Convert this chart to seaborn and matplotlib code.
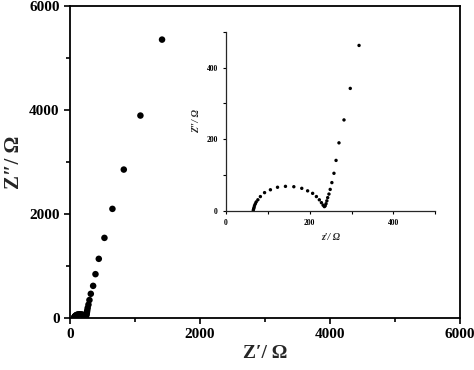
import matplotlib
matplotlib.use("Agg")
import matplotlib.pyplot as plt
import seaborn as sns
from matplotlib.ticker import MultipleLocator

# Nyquist data (ohm)
z_re = [65, 66, 67, 68, 70, 72, 76, 82, 92, 106, 123, 142, 162, 181, 195, 207,
        216, 223, 228, 232, 235, 237, 239, 241, 243, 246, 249, 253, 258, 263,
        270, 282, 297, 318, 354, 390, 441, 528, 651, 826, 1082, 1415]
z_im = [2, 6, 10, 15, 20, 25, 31, 40, 51, 59, 66, 68.5, 67.5, 63, 56, 49,
        40, 31, 23, 16, 12, 14, 20, 28, 37, 47, 60, 79, 105, 141,
        190, 254, 342, 462, 615, 840, 1135, 1538, 2096, 2852, 3891, 5352]

main_ticks = [0, 2000, 4000, 6000]
inset_ticks = [0, 200, 400]

sns.set_style("ticks")
plt.rcParams['font.family'] = ['Liberation Serif', 'DejaVu Serif']
plt.rcParams['font.weight'] = 'bold'

fig = plt.figure(figsize=(4.74, 3.70), dpi=100)

# main plot
ax = fig.add_axes([0.148, 0.141, 0.822, 0.843])
sns.scatterplot(x=z_re, y=z_im, ax=ax, color='black', s=22, edgecolor='none')
ax.set_xlim(0, 6000)
ax.set_ylim(0, 6000)
ax.set_xticks(main_ticks)
ax.set_yticks(main_ticks)
ax.xaxis.set_minor_locator(MultipleLocator(1000))
ax.yaxis.set_minor_locator(MultipleLocator(1000))
ax.tick_params(which='both', direction='out', width=1.2, colors='black', labelsize=11)
ax.tick_params(which='major', length=4)
ax.tick_params(which='minor', length=3)
for lab in ax.get_xticklabels() + ax.get_yticklabels():
    lab.set_fontweight('bold')
for sp in ax.spines.values():
    sp.set_linewidth(1.3)
    sp.set_color('black')
ax.set_xlabel("Z\u2032/ \u03a9", fontsize=14, fontweight='bold', labelpad=3)
ax.set_ylabel("Z\u2033/ \u03a9", fontsize=15, fontweight='bold', labelpad=4)

# inset zoom of the high-frequency semicircle
ins = fig.add_axes([0.477, 0.430, 0.441, 0.484])
sns.scatterplot(x=z_re, y=z_im, ax=ins, color='black', s=6, edgecolor='none')
ins.set_xlim(0, 500)
ins.set_ylim(0, 500)
ins.set_xticks(inset_ticks)
ins.set_yticks(inset_ticks)
ins.xaxis.set_minor_locator(MultipleLocator(100))
ins.yaxis.set_minor_locator(MultipleLocator(100))
ins.tick_params(which='both', direction='out', width=0.8, colors='black', labelsize=5.5)
ins.tick_params(which='major', length=2.5)
ins.tick_params(which='minor', length=2)
for lab in ins.get_xticklabels() + ins.get_yticklabels():
    lab.set_fontweight('bold')
ins.spines['top'].set_visible(False)
ins.spines['right'].set_visible(False)
ins.spines['left'].set_linewidth(0.9)
ins.spines['bottom'].set_linewidth(0.9)
ins.patch.set_alpha(0)
ins.set_xlabel("z\u2032/ \u03a9", fontsize=7, fontweight='bold', style='italic', labelpad=4)
ins.set_ylabel("Z\u2033/ \u03a9", fontsize=7, fontweight='bold', style='italic', labelpad=4)

fig.savefig("out.png", dpi=100)
